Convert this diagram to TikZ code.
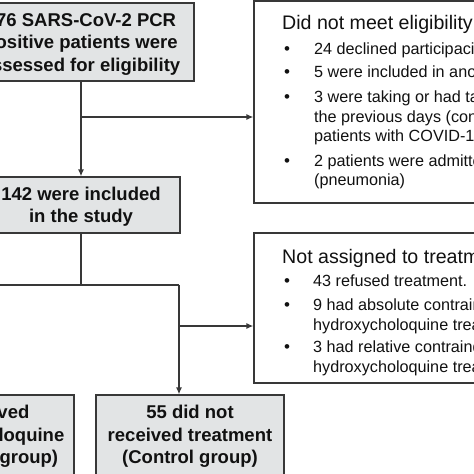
\documentclass[tikz,border=0pt]{standalone}
\usepackage{fontspec}
\setmainfont{Liberation Sans}
\usetikzlibrary{arrows.meta}
\definecolor{boxfill}{HTML}{E2E4E5}
\definecolor{edge}{HTML}{383838}
\definecolor{ink}{HTML}{111111}
\tikzset{
 graybox/.style={draw=edge, fill=boxfill, line width=1.3pt, rectangle, inner sep=0pt},
 whitebox/.style={draw=edge, fill=white, line width=1.3pt, rectangle, inner sep=0pt},
 boldtext/.style={font=\fontsize{18.5}{22.5}\selectfont\bfseries, align=center, text=ink, inner sep=0pt},
 titletext/.style={font=\fontsize{19.6}{22}\selectfont, anchor=base west, text=ink, inner sep=0pt},
 itemtext/.style={font=\fontsize{16.2}{19.5}\selectfont, anchor=base west, text=ink, inner sep=0pt},
 bullettext/.style={font=\fontsize{17}{19.5}\selectfont, anchor=base, text=ink, inner sep=0pt},
 conn/.style={draw=edge, line width=1.3pt},
 arr/.style={conn, -{Latex[length=7pt,width=6pt]}},
}
\begin{document}
\begin{tikzpicture}[x=1pt,y=-1pt]
\useasboundingbox (0,0) rectangle (474,474);
\clip (0,0) rectangle (474,474);
\fill[white] (0,0) rectangle (474,474);

% boxes
\node[graybox, minimum width=226pt, minimum height=78pt] (A) at (81,42) {};
\node[whitebox, minimum width=346pt, minimum height=202pt] (B) at (427,102) {};
\node[graybox, minimum width=198pt, minimum height=56pt] (C) at (81,205) {};
\node[whitebox, minimum width=346pt, minimum height=150pt] (D) at (427,308) {};
\node[graybox, minimum width=188pt, minimum height=81pt] (E) at (190,435.5) {};
\node[graybox, minimum width=190pt, minimum height=81pt] (F) at (-21,435.5) {};

% gray box texts
\node[boldtext] (At) at (81,44.4) {176 SARS-CoV-2 PCR\\positive patients were\\assessed for eligibility};
\node[boldtext] (Ct) at (81,206.5) {142 were included\\in the study};
\node[boldtext] (Et) at (190,436.6) {55 did not\\received treatment\\(Control group)};
\node[boldtext] (Ft) at (-21,436.6) {87 received\\hydroxycholoquine\\(Treatment group)};

% box B texts
\node[titletext] (Bt) at (282,29.5) {Did not meet eligibility criteria};
\node[bullettext] (Bb1) at (287,54.5) {•};
\node[bullettext] (Bb2) at (287,77.5) {•};
\node[bullettext] (Bb3) at (287,102.5) {•};
\node[bullettext] (Bb4) at (287,166.5) {•};
\node[itemtext] (Bi1) at (314,54.5) {24 declined participacion};
\node[itemtext] (Bi2) at (314,77.5) {5 were included in another study};
\node[itemtext] (Bi3a) at (314,102.5) {3 were taking or had taken HCQ in};
\node[itemtext] (Bi3b) at (314,122) {the previous days (contraindicated in};
\node[itemtext] (Bi3c) at (314,141.5) {patients with COVID-19)};
\node[itemtext] (Bi4a) at (314,166.5) {2 patients were admitted to hospital};
\node[itemtext] (Bi4b) at (314,185.5) {(pneumonia)};

% box D texts
\node[titletext] (Dt) at (282,263.5) {Not assigned to treatment};
\node[bullettext] (Db1) at (287,286.5) {•};
\node[bullettext] (Db2) at (287,310.5) {•};
\node[bullettext] (Db3) at (287,352.5) {•};
\node[itemtext] (Di1) at (313,286.5) {43 refused treatment.};
\node[itemtext] (Di2a) at (313,310.5) {9 had absolute contraindications to};
\node[itemtext] (Di2b) at (313,330) {hydroxycholoquine treatment};
\node[itemtext] (Di3a) at (313,352.5) {3 had relative contraindications to};
\node[itemtext] (Di3b) at (313,372) {hydroxycholoquine treatment};

% connectors
\draw[arr] (A.south) -- (C.north);
\coordinate (j1) at (81,117);
\draw[arr] (j1) -- (j1 -| B.west);
\coordinate (j2) at (81,285);
\coordinate (j3) at (179,285);
\coordinate (j4) at (-32,285);
\coordinate (j5) at (179,326);
\draw[conn] (C.south) -- (j2);
\draw[conn] (j4) -- (j3);
\draw[arr] (j3) -- (j3 |- E.north);
\draw[arr] (j4) -- (j4 |- F.north);
\draw[arr] (j5) -- (j5 -| D.west);
\end{tikzpicture}
\end{document}
